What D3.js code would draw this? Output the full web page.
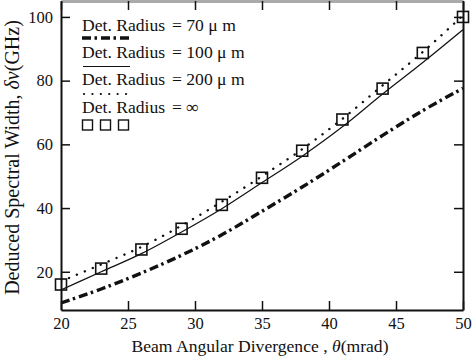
<!DOCTYPE html>
<html><head><meta charset="utf-8">
<script src="https://cdn.jsdelivr.net/npm/d3@7/dist/d3.min.js"></script>
<style>body{margin:0;background:#fff}svg{display:block}text{font-family:"Liberation Serif","Times New Roman",serif;fill:#111}</style>
</head><body>
<svg id="c" width="474" height="358"></svg>
<script>
const theta = [20, 23, 26, 29, 32, 35, 38, 41, 44, 47, 50];
const r70   = [10.2, 14.6, 19.6, 25.2, 31.6, 39.0, 46.6, 54.6, 62.8, 70.6, 77.6];
const r100  = [14.3, 20.0, 25.7, 32.5, 39.8, 48.0, 56.3, 65.5, 75.8, 85.7, 96.0];
const r200  = [17.0, 22.3, 27.8, 34.5, 42.0, 50.0, 58.5, 68.0, 78.5, 89.0, 100.5];
const rInf  = [16.0, 21.0, 27.0, 33.5, 41.0, 49.5, 58.0, 67.8, 77.5, 88.7, 100.0];
const xTicks = [20, 25, 30, 35, 40, 45, 50];
const yTicks = [20, 40, 60, 80, 100];
const legendPrefix = "Det. Radius";
const legendValues = ["= 70 \u03BC m", "= 100 \u03BC m", "= 200 \u03BC m", "= \u221E"];

const svg = d3.select("#c");
const L = 61, R = 463, T = 1, B = 310;
const x = d3.scaleLinear().domain([20, 50]).range([L, R]);
const y = d3.scaleLinear().domain([8, 105]).range([B, T]);

// axes with inward ticks
const tl = 9;
const gx = svg.append("g").attr("transform", `translate(0,${B})`)
  .call(d3.axisBottom(x).tickValues(xTicks).tickSize(-tl).tickPadding(7).tickSizeOuter(0));
const gxt = svg.append("g").attr("transform", `translate(0,${T})`)
  .call(d3.axisTop(x).tickValues(xTicks).tickSize(-tl).tickFormat("").tickSizeOuter(0));
const gy = svg.append("g").attr("transform", `translate(${L},0)`)
  .call(d3.axisLeft(y).tickValues(yTicks).tickSize(-tl).tickPadding(8).tickSizeOuter(0));
const gyr = svg.append("g").attr("transform", `translate(${R},0)`)
  .call(d3.axisRight(y).tickValues(yTicks).tickSize(-tl).tickFormat("").tickSizeOuter(0));
[gx, gxt, gy, gyr].forEach(g => {
  g.select(".domain").attr("stroke", "#111").attr("stroke-width", 2);
  g.selectAll(".tick line").attr("stroke", "#111").attr("stroke-width", 1.5);
  g.selectAll("text").attr("font-size", 16.5).attr("font-family", "Liberation Serif").attr("fill", "#111");
});
gxt.select(".domain").attr("stroke", "#aaa").attr("stroke-width", 3);

const line = d3.line().x((d, i) => x(theta[i])).y(d => y(d)).curve(d3.curveMonotoneX);
svg.append("clipPath").attr("id", "cp").append("rect")
  .attr("x", L).attr("y", T).attr("width", R - L).attr("height", B - T);
const plot = svg.append("g").attr("clip-path", "url(#cp)");

const dashDot = "9,3.5,2.5,4";
plot.append("path").attr("d", line(r70)).attr("fill", "none").attr("stroke", "#111")
  .attr("stroke-width", 3.4).attr("stroke-dasharray", dashDot);
plot.append("path").attr("d", line(r100)).attr("fill", "none").attr("stroke", "#111")
  .attr("stroke-width", 1.2);
plot.append("path").attr("d", line(r200)).attr("fill", "none").attr("stroke", "#111")
  .attr("stroke-width", 2.4).attr("stroke-linecap", "round").attr("stroke-dasharray", "0.1,8.5");
const sq = 11;
svg.append("g").selectAll("rect").data(rInf).join("rect")
  .attr("x", (d, i) => x(theta[i]) - sq / 2).attr("y", d => y(d) - sq / 2)
  .attr("width", sq).attr("height", sq).attr("fill", "none")
  .attr("stroke", "#111").attr("stroke-width", 1.6);

// legend
const lg = svg.append("g");
const lx0 = 82, lx1 = 130;
const rowY = [31, 58, 85, 113];
legendValues.forEach((v, i) => {
  const t = lg.append("text").attr("y", rowY[i]).attr("font-size", 17.6);
  t.append("tspan").attr("x", lx0).text(legendPrefix);
  t.append("tspan").attr("x", 172).text(v);
});
lg.append("line").attr("x1", lx0).attr("x2", lx1).attr("y1", 38).attr("y2", 38)
  .attr("stroke", "#111").attr("stroke-width", 3.4).attr("stroke-dasharray", dashDot);
lg.append("line").attr("x1", lx0 + 1).attr("x2", lx1).attr("y1", 66.5).attr("y2", 66.5)
  .attr("stroke", "#111").attr("stroke-width", 1.2);
lg.append("line").attr("x1", lx0 + 2).attr("x2", lx1).attr("y1", 94).attr("y2", 94)
  .attr("stroke", "#111").attr("stroke-width", 2.2).attr("stroke-linecap", "round").attr("stroke-dasharray", "0.1,8.3");
[0, 1, 2].forEach(k => {
  lg.append("rect").attr("x", lx0 + 0.5 + k * 18).attr("y", 120).attr("width", 10).attr("height", 10)
    .attr("fill", "none").attr("stroke", "#111").attr("stroke-width", 1.4);
});

// axis titles
const xt = svg.append("text").attr("x", 260).attr("y", 352).attr("text-anchor", "middle")
  .attr("font-size", 17.6);
xt.append("tspan").text("Beam Angular  Divergence , ");
xt.append("tspan").attr("font-style", "italic").text("\u03B8");
xt.append("tspan").text("(mrad)");
const yt = svg.append("text").attr("transform", "translate(19,157.5) rotate(-90)").attr("text-anchor", "middle")
  .attr("font-size", 20);
yt.append("tspan").text("Deduced Spectral Width, ");
yt.append("tspan").attr("font-style", "italic").text("\u03B4\u03BD");
yt.append("tspan").text("(GHz)");
</script>
</body></html>
